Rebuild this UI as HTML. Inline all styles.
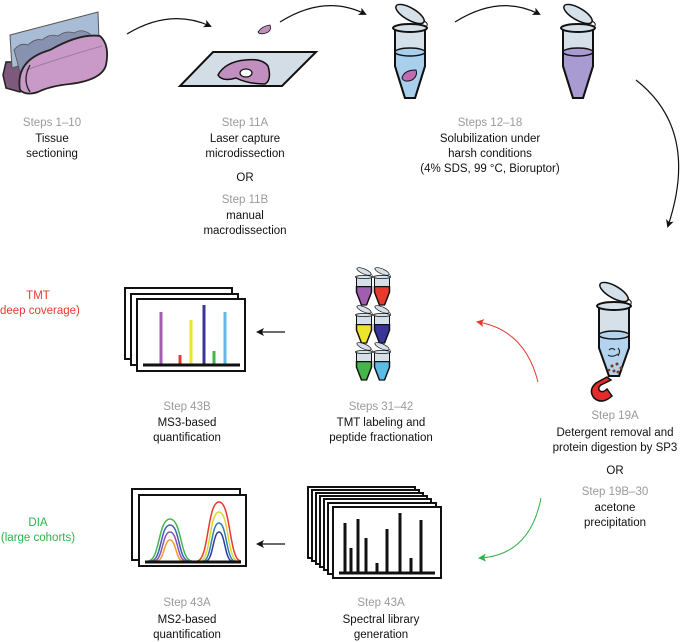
<!DOCTYPE html>
<html><head><meta charset="utf-8"><style>
html,body{margin:0;padding:0;background:#fff;}
svg{display:block;}
text{font-family:"Liberation Sans",Arial,sans-serif;font-size:11.5px;text-anchor:middle;fill:#111;}
.g{fill:#9a9a9a;}
</style></head><body>
<svg width="685" height="642" viewBox="0 0 685 642" xmlns="http://www.w3.org/2000/svg">
<defs>
<marker id="ah" markerWidth="8" markerHeight="8" refX="6" refY="4" orient="auto" markerUnits="userSpaceOnUse"><path d="M0,0 L8,4 L0,8 L2,4 Z" fill="#111"/></marker>
<marker id="ahr" markerWidth="8" markerHeight="8" refX="6" refY="4" orient="auto" markerUnits="userSpaceOnUse"><path d="M0,0 L8,4 L0,8 L2,4 Z" fill="#e8392f"/></marker>
<marker id="ahg" markerWidth="8" markerHeight="8" refX="6" refY="4" orient="auto" markerUnits="userSpaceOnUse"><path d="M0,0 L8,4 L0,8 L2,4 Z" fill="#2db34a"/></marker>
<g id="tube">
  <ellipse cx="0" cy="-14" rx="16" ry="6" transform="rotate(30 0 -14)" fill="#d5e0e8" stroke="#111" stroke-width="1.5"/>
  <path d="M15,0 Q20,-4 14,-7" fill="none" stroke="#111" stroke-width="1"/>
  <path d="M-15,0 L-15,38 L-5,70 L5,70 L15,38 L15,0 Z" fill="#d5e0e8" stroke="#111" stroke-width="2"/>
  <ellipse cx="0" cy="0" rx="17" ry="4" fill="#d5e0e8" stroke="#111" stroke-width="2"/>
</g>
</defs>

<path d="M6,62 L3,75 L6,88 L20,92 L30,86 L30,62 Z" fill="#7d5a7d" stroke="#222" stroke-width="1.5"/>
<path d="M10,35 L98,12 L99,40 L12,68 Z" fill="#a9bcd6" stroke="#555" stroke-width="1"/>
<path d="M14,50 Q20,42 28,45 Q35,38 42,40 Q50,33 58,36 Q66,30 74,33 Q82,28 90,34 L92,60 L20,72 Z" fill="#8791b0" stroke="#555" stroke-width="0.8"/>
<path d="M20,90 Q15,60 50,50 Q80,33 100,36 Q110,45 106,65 Q102,80 70,84 Q50,86 38,92 Q26,96 20,90 Z" fill="#c99ac8" stroke="#222" stroke-width="1.8"/>
<path d="M26,70 Q60,58 102,46" fill="none" stroke="#a07aa0" stroke-width="1"/>
<path d="M30,65 Q22,80 30,92" fill="none" stroke="#222" stroke-width="1.3"/>

<path d="M213,52 L316,52 L282,86 L180,86 Z" fill="#d2dde5" stroke="#111" stroke-width="2"/>
<path d="M218,75 Q225,62 245,60 Q262,58 268,66 Q272,80 265,84 Q248,84 236,78 Q222,82 218,75 Z" fill="#c08fbf" stroke="#111" stroke-width="1.5"/>
<ellipse cx="246" cy="73" rx="6" ry="4" fill="#fff" stroke="#111" stroke-width="1.2"/>
<path d="M258,32 Q262,26 270,25 Q272,31 266,33 Q260,35 258,32 Z" fill="#c08fbf" stroke="#111" stroke-width="0.8"/>

<path d="M127,34 Q170,8 210,26" fill="none" stroke="#111" stroke-width="1.2" marker-end="url(#ah)"/>
<path d="M280,22 Q325,-6 365,14" fill="none" stroke="#111" stroke-width="1.2" marker-end="url(#ah)"/>
<path d="M455,22 Q500,-6 539,14" fill="none" stroke="#111" stroke-width="1.2" marker-end="url(#ah)"/>
<path d="M636,80 Q700,130 668,226" fill="none" stroke="#111" stroke-width="1.2" marker-end="url(#ah)"/>

<g transform="translate(410,28)">
  <use href="#tube"/>
  <path d="M-15,24 L-15,38 L-5,69 L5,69 L15,38 L15,24 Z" fill="#a8d0ec"/>
  <ellipse cx="0" cy="24" rx="15" ry="4" fill="#a8d0ec" stroke="#111" stroke-width="1.5"/>
  <path d="M-15,24 L-15,38 L-5,70 L5,70 L15,38 L15,24" fill="none" stroke="#111" stroke-width="2"/>
  <path d="M-8,50 Q-6,42 6,42 Q8,48 2,52 Q-6,55 -8,50 Z" fill="#c06cb3" stroke="#111" stroke-width="1"/>
</g>
<g transform="translate(578,28)">
  <use href="#tube"/>
  <path d="M-15,24 L-15,38 L-5,69 L5,69 L15,38 L15,24 Z" fill="#a79bd2"/>
  <ellipse cx="0" cy="24" rx="15" ry="4" fill="#a79bd2" stroke="#111" stroke-width="1.5"/>
  <path d="M-15,24 L-15,38 L-5,70 L5,70 L15,38 L15,24" fill="none" stroke="#111" stroke-width="2"/>
</g>
<g transform="translate(614,306)">
  <use href="#tube"/>
  <path d="M-15,29 L-15,42 L-5,70 L5,70 L15,42 L15,29 Z" fill="#b3d3ee"/>
  <ellipse cx="0" cy="29" rx="15" ry="4" fill="#b3d3ee" stroke="#111" stroke-width="1.5"/>
  <path d="M-15,29 L-15,42 L-5,70 L5,70 L15,42 L15,29" fill="none" stroke="#111" stroke-width="2"/>
  <path d="M-5,44 Q-2,41 1,44 M-6,49 Q-2,52 4,48 M4,42 Q7,45 4,50" fill="none" stroke="#111" stroke-width="1"/>
  <g fill="#7a3b1e"><circle cx="-2" cy="60" r="1.5"/><circle cx="3" cy="58" r="1.5"/><circle cx="7" cy="62" r="1.5"/><circle cx="0" cy="65" r="1.5"/><circle cx="4" cy="66" r="1.5"/><circle cx="-5" cy="64" r="1.3"/></g>
</g>
<path d="M607,377 L596,383 Q588,390 594,398 Q602,405 612,396 L607,389 Q603,393 600,391 Q597,388 601,385 L611,380 Z" fill="#e52b2b" stroke="#111" stroke-width="1.5"/>

<path d="M538,382 Q525,330 478,322" fill="none" stroke="#e8392f" stroke-width="1" marker-end="url(#ahr)"/>
<path d="M541,498 Q530,555 480,558" fill="none" stroke="#2db34a" stroke-width="1" marker-end="url(#ahg)"/>

<path d="M285,332 L258,332" stroke="#111" stroke-width="1.2" marker-end="url(#ah)"/>
<path d="M285,544 L258,544" stroke="#111" stroke-width="1.2" marker-end="url(#ah)"/>

<g transform="translate(364,277) scale(0.5,0.4)"><use href="#tube"/><path d="M-15,24 L-15,38 L-5,70 L5,70 L15,38 L15,24Z" fill="#a15eb0" stroke="#111" stroke-width="3"/></g>
<g transform="translate(382,277) scale(0.5,0.4)"><use href="#tube"/><path d="M-15,24 L-15,38 L-5,70 L5,70 L15,38 L15,24Z" fill="#e8392f" stroke="#111" stroke-width="3"/></g>
<g transform="translate(364,315) scale(0.5,0.4)"><use href="#tube"/><path d="M-15,24 L-15,38 L-5,70 L5,70 L15,38 L15,24Z" fill="#ece52c" stroke="#111" stroke-width="3"/></g>
<g transform="translate(382,315) scale(0.5,0.4)"><use href="#tube"/><path d="M-15,24 L-15,38 L-5,70 L5,70 L15,38 L15,24Z" fill="#3b3598" stroke="#111" stroke-width="3"/></g>
<g transform="translate(364,352) scale(0.5,0.4)"><use href="#tube"/><path d="M-15,24 L-15,38 L-5,70 L5,70 L15,38 L15,24Z" fill="#45b64a" stroke="#111" stroke-width="3"/></g>
<g transform="translate(382,352) scale(0.5,0.4)"><use href="#tube"/><path d="M-15,24 L-15,38 L-5,70 L5,70 L15,38 L15,24Z" fill="#5bbde6" stroke="#111" stroke-width="3"/></g>

<g fill="#fff" stroke="#111" stroke-width="2">
<rect x="125" y="288" width="107" height="71"/>
<rect x="131" y="294" width="107" height="71"/>
<rect x="137" y="299" width="108" height="72"/>
</g>
<g stroke-width="3">
<line x1="161" y1="312" x2="161" y2="365" stroke="#a15eb0"/>
<line x1="180" y1="355" x2="180" y2="365" stroke="#e8392f"/>
<line x1="191" y1="320" x2="191" y2="365" stroke="#ece52c"/>
<line x1="204" y1="305" x2="204" y2="365" stroke="#3b3598"/>
<line x1="214" y1="351" x2="214" y2="365" stroke="#45b64a"/>
<line x1="225" y1="312" x2="225" y2="365" stroke="#5bbde6"/>
</g>
<line x1="143" y1="365" x2="240" y2="365" stroke="#111" stroke-width="3"/>

<g fill="#fff" stroke="#111" stroke-width="2">
<rect x="132" y="489" width="108" height="71"/>
<rect x="139" y="495" width="107" height="71"/>
</g>
<g fill="none" stroke-width="1.5">
<path d="M148,561 C160,561 158,519 170,519 C182,519 180,561 192,561" stroke="#45b64a"/>
<path d="M151,561 C162,561 160,525 170,525 C180,525 178,561 189,561" stroke="#3a5fb0"/>
<path d="M154,561 C163,561 162,532 170,532 C178,532 177,561 186,561" stroke="#8a55b0"/>
<path d="M157,561 C164,561 164,540 170,540 C176,540 176,561 183,561" stroke="#f29a2e"/>
<path d="M197,561 C209,561 207,502 219,502 C231,502 229,561 241,561" stroke="#e8392f"/>
<path d="M200,561 C211,561 209,512 219,512 C229,512 227,561 238,561" stroke="#d9d92c"/>
<path d="M203,561 C212,561 211,523 219,523 C227,523 226,561 235,561" stroke="#2f7fb0"/>
<path d="M206,561 C213,561 213,532 219,532 C225,532 225,561 232,561" stroke="#2a3f9a"/>
</g>
<line x1="145" y1="562" x2="241" y2="562" stroke="#111" stroke-width="3"/>

<g fill="#fff" stroke="#111" stroke-width="2">
<rect x="308" y="487" width="107" height="71"/>
<rect x="312" y="490" width="107" height="71"/>
<rect x="316" y="493" width="107" height="71"/>
<rect x="320" y="496" width="107" height="71"/>
<rect x="324" y="499" width="107" height="71"/>
<rect x="328" y="503" width="108" height="71"/>
<rect x="333" y="507" width="108" height="71"/>
</g>
<g stroke="#111" stroke-width="3">
<line x1="345" y1="523" x2="345" y2="573"/>
<line x1="351" y1="548" x2="351" y2="573"/>
<line x1="358" y1="519" x2="358" y2="573"/>
<line x1="366" y1="538" x2="366" y2="573"/>
<line x1="377" y1="563" x2="377" y2="573"/>
<line x1="387" y1="529" x2="387" y2="573"/>
<line x1="400" y1="513" x2="400" y2="573"/>
<line x1="411" y1="558" x2="411" y2="573"/>
<line x1="421" y1="520" x2="421" y2="573"/>
<line x1="339" y1="573" x2="435" y2="573"/>
</g>

<text x="52" y="126" class="g">Steps 1–10</text>
<text x="52" y="142">Tissue</text>
<text x="52" y="157">sectioning</text>

<text x="245" y="126" class="g">Step 11A</text>
<text x="245" y="142">Laser capture</text>
<text x="245" y="157">microdissection</text>
<text x="245" y="181">OR</text>
<text x="245" y="203" class="g">Step 11B</text>
<text x="245" y="219">manual</text>
<text x="245" y="234">macrodissection</text>

<text x="490" y="126" class="g">Steps 12–18</text>
<text x="490" y="142">Solubilization under</text>
<text x="490" y="157">harsh conditions</text>
<text x="490" y="172">(4% SDS, 99 °C, Bioruptor)</text>

<text x="38" y="299" style="fill:#e8392f">TMT</text>
<text x="38" y="314" style="fill:#e8392f">(deep coverage)</text>

<text x="187" y="410" class="g">Step 43B</text>
<text x="187" y="426">MS3-based</text>
<text x="187" y="441">quantification</text>

<text x="381" y="410" class="g">Steps 31–42</text>
<text x="381" y="426">TMT labeling and</text>
<text x="381" y="441">peptide fractionation</text>

<text x="615" y="419" class="g">Step 19A</text>
<text x="615" y="436">Detergent removal and</text>
<text x="615" y="451">protein digestion by SP3</text>
<text x="615" y="474">OR</text>
<text x="615" y="495" class="g">Step 19B–30</text>
<text x="615" y="511">acetone</text>
<text x="615" y="526">precipitation</text>

<text x="38" y="526" style="fill:#2db34a">DIA</text>
<text x="38" y="541" style="fill:#2db34a">(large cohorts)</text>

<text x="187" y="606" class="g">Step 43A</text>
<text x="187" y="623">MS2-based</text>
<text x="187" y="638">quantification</text>

<text x="381" y="606" class="g">Step 43A</text>
<text x="381" y="623">Spectral library</text>
<text x="381" y="638">generation</text>
</svg>
</body></html>
